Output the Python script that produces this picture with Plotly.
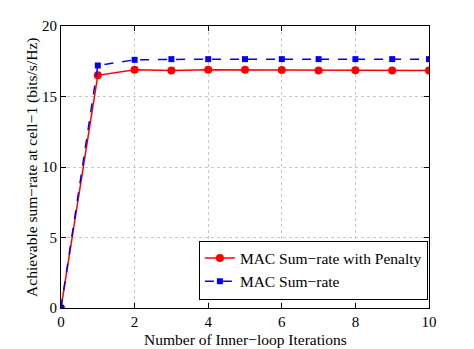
import plotly.graph_objects as go

iterations = [0, 1, 2, 3, 4, 5, 6, 7, 8, 9, 10]
rate_penalty = [0, 16.5, 16.9, 16.85, 16.9, 16.9, 16.88, 16.85, 16.87, 16.85, 16.85]
rate_mac = [0, 17.2, 17.6, 17.65, 17.65, 17.65, 17.65, 17.65, 17.65, 17.65, 17.65]

x_title = "Number of Inner\u2212loop Iterations"
y_title = "Achievable sum\u2212rate at cell\u22121 (bits/s/Hz)"

font_family = "Liberation Serif, Times New Roman, serif"

fig = go.Figure()
fig.add_trace(go.Scatter(
    x=iterations, y=rate_penalty, mode="lines+markers",
    name="MAC Sum\u2212rate with Penalty",
    line=dict(color="red", width=1.5),
    marker=dict(symbol="circle", size=8, color="red"),
))
fig.add_trace(go.Scatter(
    x=iterations, y=rate_mac, mode="lines+markers",
    name="MAC Sum\u2212rate",
    line=dict(color="blue", width=1.5, dash="dash"),
    marker=dict(symbol="square", size=6, color="blue"),
))

axis_common = dict(
    showline=True, linecolor="black", linewidth=1, mirror="ticks",
    ticks="inside", ticklen=5, tickcolor="black",
    showgrid=True, gridcolor="#c8c8c8", griddash="dot", gridwidth=1,
    zeroline=False, automargin=False,
    tickfont=dict(family=font_family, size=15, color="black"),
)

fig.update_xaxes(range=[0, 10], tickvals=[0, 2, 4, 6, 8, 10], **axis_common)
fig.update_yaxes(range=[0, 20], tickvals=[0, 5, 10, 15, 20], **axis_common)

# axis titles placed in paper coordinates just outside the plot area
title_font = dict(family=font_family, size=15.5, color="black")
fig.add_annotation(text=x_title, xref="paper", yref="paper", x=0.5, y=-0.146,
                   xanchor="center", yanchor="bottom", showarrow=False,
                   borderpad=0, font=title_font)
fig.add_annotation(text=y_title, xref="paper", yref="paper", x=-0.079, y=0.5,
                   xanchor="center", yanchor="middle", textangle=-90,
                   showarrow=False, font=title_font)

fig.update_layout(
    width=474, height=349,
    margin=dict(l=61, r=45, t=26, b=41),
    paper_bgcolor="white", plot_bgcolor="white",
    legend=dict(x=0.997, y=0.03, xanchor="right", yanchor="bottom",
                bgcolor="white", bordercolor="black", borderwidth=1,
                font=dict(family=font_family, size=15.5, color="black"),
                tracegroupgap=0, itemwidth=30),
    showlegend=True,
)

fig.write_html("out.html")
